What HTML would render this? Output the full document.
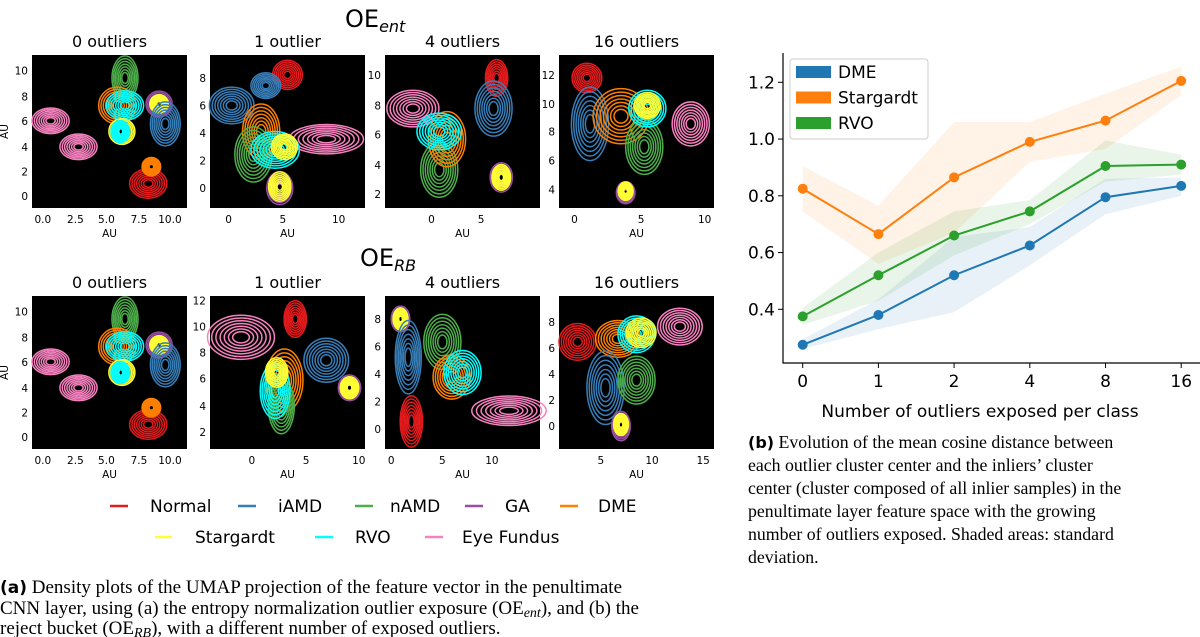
<!DOCTYPE html>
<html><head><meta charset="utf-8"><style>
html,body{margin:0;padding:0;background:#fff;}
svg{display:block;}
.t{font-family:"DejaVu Sans","Liberation Sans",sans-serif;}
.s{font-family:"Liberation Serif",serif;}
</style></head><body>
<svg id="root" width="1200" height="637" viewBox="0 0 1200 637">
<g id="left"></g>
<g id="right"></g>
<text class="t" x="345" y="27" font-size="24">OE<tspan font-size="16" font-style="italic" dy="5">ent</tspan></text>
<text class="t" x="360" y="266" font-size="24">OE<tspan font-size="16" font-style="italic" dy="5">RB</tspan></text>
<g class="t" font-size="17">
<line x1="110" y1="506" x2="128" y2="506" stroke="#e41a1c" stroke-width="2.5"/><text x="150" y="512">Normal</text>
<line x1="238" y1="506" x2="256" y2="506" stroke="#377eb8" stroke-width="2.5"/><text x="278" y="512">iAMD</text>
<line x1="355" y1="506" x2="373" y2="506" stroke="#4daf4a" stroke-width="2.5"/><text x="390" y="512">nAMD</text>
<line x1="465" y1="506" x2="483" y2="506" stroke="#984ea3" stroke-width="2.5"/><text x="505" y="512">GA</text>
<line x1="560" y1="506" x2="578" y2="506" stroke="#ff7f00" stroke-width="2.5"/><text x="598" y="512">DME</text>
<line x1="155" y1="537" x2="172" y2="537" stroke="#ffff33" stroke-width="2.5"/><text x="195" y="543">Stargardt</text>
<line x1="315" y1="537" x2="333" y2="537" stroke="#00ffff" stroke-width="2.5"/><text x="355" y="543">RVO</text>
<line x1="425" y1="537" x2="443" y2="537" stroke="#f781bf" stroke-width="2.5"/><text x="462" y="543">Eye Fundus</text>
</g>
<g class="s" font-size="19">
<text x="0" y="593"><tspan class="t" font-weight="bold" font-size="17">(a)</tspan> Density plots of the UMAP projection of the feature vector in the penultimate</text>
<text x="0" y="614">CNN layer, using (a) the entropy normalization outlier exposure (OE<tspan font-style="italic" font-size="14" dy="3">ent</tspan><tspan dy="-3">), and (b) the</tspan></text>
<text x="0" y="634">reject bucket (OE<tspan font-style="italic" font-size="14" dy="3">RB</tspan><tspan dy="-3">), with a different number of exposed outliers.</tspan></text>
</g>
<g class="s" font-size="17.8">
<text x="748" y="448"><tspan class="t" font-weight="bold" font-size="16">(b)</tspan> Evolution of the mean cosine distance between</text>
<text x="748" y="471">each outlier cluster center and the inliers’ cluster</text>
<text x="748" y="494">center (cluster composed of all inlier samples) in the</text>
<text x="748" y="517">penultimate layer feature space with the growing</text>
<text x="748" y="540">number of outliers exposed. Shaded areas: standard</text>
<text x="748" y="563">deviation.</text>
</g>
</svg>
<script>
const NS='http://www.w3.org/2000/svg';
function mk(tag,attrs,parent){const e=document.createElementNS(NS,tag);for(const k in attrs)e.setAttribute(k,attrs[k]);parent.appendChild(e);return e;}

/* ---------- right chart data ---------- */
const categories=['0','1','2','4','8','16'];
const dmeMean=[0.275,0.38,0.52,0.625,0.795,0.835];
const dmeLow=[0.26,0.33,0.39,0.555,0.735,0.80];
const dmeHigh=[0.295,0.435,0.655,0.69,0.86,0.865];
const stgMean=[0.825,0.665,0.865,0.99,1.065,1.205];
const stgLow=[0.745,0.56,0.67,0.92,0.965,1.155];
const stgHigh=[0.905,0.765,1.06,1.06,1.16,1.255];
const rvoMean=[0.375,0.52,0.66,0.745,0.905,0.91];
const rvoLow=[0.345,0.43,0.59,0.70,0.85,0.875];
const rvoHigh=[0.405,0.60,0.745,0.785,0.995,0.945];
const yTicks=[0.4,0.6,0.8,1.0,1.2];

const R=document.getElementById('right');
const xS=i=>802.7+i*75.7;
const yS=v=>309.3-(v-0.4)*283.75;
const series=[['dme',dmeMean,dmeLow,dmeHigh,'#1f77b4'],['stargardt',stgMean,stgLow,stgHigh,'#ff7f0e'],['rvo',rvoMean,rvoLow,rvoHigh,'#2ca02c']];
series.forEach(s=>{
  let d='';s[2].forEach((v,i)=>d+=(i?'L':'M')+xS(i)+','+yS(v));
  for(let i=s[3].length-1;i>=0;i--)d+='L'+xS(i)+','+yS(s[3][i]);
  const b=mk('path',{d:d+'Z',fill:s[4],'fill-opacity':0.1},R);
  
  
});
series.forEach(s=>{
  const l=mk('polyline',{points:s[1].map((v,i)=>xS(i)+','+yS(v)).join(' '),fill:'none',stroke:s[4],'stroke-width':2},R);
  
  
  s[1].forEach((v,i)=>{
    const c=mk('circle',{cx:xS(i),cy:yS(v),r:5,fill:s[4]},R);
    
    
  });
});
const ax=mk('path',{d:'M783,53V363H1200',fill:'none',stroke:'#000','stroke-width':1.2},R);


yTicks.forEach(v=>{
  mk('line',{x1:778,x2:783,y1:yS(v),y2:yS(v),stroke:'#000'},R);
  const t=mk('text',{x:775,y:yS(v)+6,'text-anchor':'end','font-size':17,class:'t'},R);
  t.textContent=v.toFixed(1);
  
  
});
categories.forEach((c,i)=>{
  mk('line',{x1:xS(i),x2:xS(i),y1:363,y2:368,stroke:'#000'},R);
  const t=mk('text',{x:xS(i),y:387,'text-anchor':'middle','font-size':17,class:'t'},R);
  t.textContent=c;
  
  
});
const xl=mk('text',{x:980,y:417,'text-anchor':'middle','font-size':17,class:'t'},R);
xl.textContent='Number of outliers exposed per class';


const lg=mk('g',{},R);


mk('rect',{x:790,y:59,width:138,height:80,rx:3,fill:'#fff','fill-opacity':0.8,stroke:'#ccc'},lg);
series.forEach((s,i)=>{
  mk('rect',{x:796,y:66+i*25.5,width:35,height:12,fill:s[4]},lg);
  const t=mk('text',{x:838,y:78+i*25.5,'font-size':17,class:'t'},lg);
  t.textContent=['DME','Stargardt','RVO'][i];
  
  
});

/* ---------- left density panels ---------- */
const C={red:'#e41a1c',blue:'#377eb8',green:'#4daf4a',purple:'#984ea3',orange:'#ff7f00',yellow:'#ffff33',cyan:'#00ffff',pink:'#f781bf'};
const panelTitles=['0 outliers','1 outlier','4 outliers','16 outliers'];
const p1=[['pink',.12,.43,.1,.07],['pink',.3,.6,.1,.07],['green',.6,.15,.07,.12],['orange',.55,.33,.1,.1],['cyan',.6,.33,.1,.08],['yellow',.58,.5,.07,.07],['cyan',.57,.5,.05,.06],['purple',.82,.32,.07,.07],['yellow',.82,.32,.05,.05],['blue',.86,.45,.08,.12],['red',.75,.84,.1,.08],['orange',.77,.73,.05,.05]];
const blobsTop=[p1,
[['red',.5,.13,.08,.08],['blue',.14,.33,.12,.1],['blue',.36,.2,.08,.07],['orange',.33,.5,.1,.15],['green',.28,.65,.1,.15],['pink',.75,.55,.2,.08],['cyan',.42,.62,.13,.1],['yellow',.48,.6,.07,.07],['purple',.45,.87,.07,.09],['yellow',.45,.86,.06,.08]],
[['pink',.18,.35,.14,.1],['red',.72,.15,.06,.1],['blue',.7,.35,.1,.15],['green',.35,.75,.1,.15],['orange',.4,.55,.1,.15],['cyan',.35,.5,.12,.1],['purple',.75,.8,.06,.08],['yellow',.75,.8,.05,.07]],
[['red',.18,.15,.08,.08],['blue',.2,.45,.1,.2],['orange',.4,.4,.15,.15],['green',.55,.6,.1,.15],['cyan',.57,.35,.1,.1],['yellow',.57,.33,.07,.07],['pink',.85,.45,.1,.12],['purple',.43,.9,.05,.06],['yellow',.43,.89,.04,.05]]];
const blobsBot=[p1,
[['pink',.2,.27,.18,.12],['red',.55,.15,.06,.1],['blue',.75,.42,.12,.12],['orange',.48,.55,.1,.17],['green',.46,.72,.07,.15],['cyan',.42,.62,.08,.15],['yellow',.43,.5,.06,.08],['purple',.9,.6,.06,.07],['yellow',.9,.6,.05,.06]],
[['purple',.1,.15,.05,.07],['yellow',.1,.15,.04,.06],['blue',.15,.4,.07,.2],['red',.17,.82,.06,.14],['green',.37,.3,.1,.15],['orange',.43,.53,.1,.12],['cyan',.5,.5,.1,.12],['pink',.8,.75,.2,.08]],
[['red',.12,.3,.1,.1],['orange',.38,.28,.12,.1],['pink',.78,.2,.12,.1],['blue',.3,.6,.1,.2],['green',.5,.55,.1,.13],['cyan',.5,.25,.1,.1],['yellow',.53,.24,.08,.08],['purple',.4,.85,.05,.08],['yellow',.4,.84,.04,.06]]];
const xTickTop=[[['0.0',.07],['2.5',.28],['5.0',.48],['7.5',.69],['10.0',.89]],[['0',.12],['5',.47],['10',.83]],[['0',.3],['5',.62]],[['0',.1],['5',.53],['10',.94]]];
const yTickTop=[[['10',.1],['8',.27],['6',.43],['4',.6],['2',.76],['0',.92]],[['8',.15],['6',.33],['4',.51],['2',.69],['0',.87]],[['10',.13],['8',.33],['6',.52],['4',.72],['2',.91]],[['12',.13],['10',.32],['8',.5],['6',.69],['4',.88]]];
const xTickBot=[xTickTop[0],[['0',.27],['5',.62],['10',.96]],[['0',.04],['5',.37],['10',.69]],[['5',.27],['10',.6],['15',.93]]];
const yTickBot=[yTickTop[0],[['12',.03],['10',.2],['8',.37],['6',.54],['4',.72],['2',.89]],[['8',.15],['6',.33],['4',.51],['2',.69],['0',.87]],[['8',.17],['6',.34],['4',.51],['2',.68],['0',.85]]];
const L=document.getElementById('left');
const px=[32,210,385,559], pw=155, ph=153;
function panel(row,i,top,blobs,xt,yt){
  const x0=px[i];
  const g=mk('g',{},L);
  
  
  mk('rect',{x:x0,y:top,width:pw,height:ph,fill:'#000'},g);
  blobs.forEach(b=>{
    for(let k=0;k<7;k++){
      const f=1.2*(1-k*0.125);
      const e=mk('ellipse',{cx:x0+b[1]*pw,cy:top+b[2]*ph,rx:b[3]*pw*f,ry:b[4]*ph*f,fill:'none',stroke:C[b[0]],'stroke-width':1.5},g);
      
      
    }
  });
  const tt=mk('text',{x:x0+pw/2,y:top-8,'text-anchor':'middle','font-size':16,class:'t'},g);
  tt.textContent=panelTitles[i];
  xt.forEach(t=>{const e=mk('text',{x:x0+t[1]*pw,y:top+ph+15,'text-anchor':'middle','font-size':10.5,class:'t'},g);e.textContent=t[0];});
  yt.forEach(t=>{const e=mk('text',{x:x0-4,y:top+t[1]*ph+4,'text-anchor':'end','font-size':10.5,class:'t'},g);e.textContent=t[0];});
  const au=mk('text',{x:x0+pw/2,y:top+ph+29,'text-anchor':'middle','font-size':10.5,class:'t'},g);au.textContent='AU';
  if(i===0){const a=mk('text',{x:0,y:0,'text-anchor':'middle','font-size':10.5,class:'t',transform:'translate('+(x0-24)+','+(top+ph/2)+') rotate(-90)'},g);a.textContent='AU';}
}
for(let i=0;i<4;i++){panel(0,i,55,blobsTop[i],xTickTop[i],yTickTop[i]);panel(1,i,296,blobsBot[i],xTickBot[i],yTickBot[i]);}
</script>
</body></html>
